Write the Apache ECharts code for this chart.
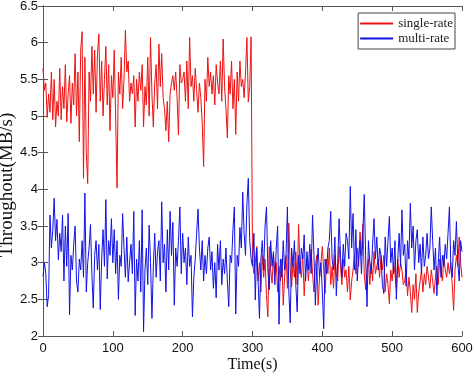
<!DOCTYPE html>
<html>
<head>
<meta charset="utf-8">
<script src="https://cdn.jsdelivr.net/npm/echarts@6/dist/echarts.min.js"></script>
<style>
html,body{margin:0;padding:0;background:#fff;}
#chart{width:474px;height:374px;}
</style>
</head>
<body>
<div id="chart"></div>
<script>
// sample spacing of both series (seconds)
const sampleStep = 2;
const seriesNames = ['single-rate', 'multi-rate'];
const xTicks = [0, 100, 200, 300, 400, 500, 600];
const yTicks = [2, 2.5, 3, 3.5, 4, 4.5, 5, 5.5, 6, 6.5];

// single-rate throughput (MB/s), t = 0,2,...,600
const singleRate = [
  5.65,5.35,5.45,4.98,5.3,5.05,5.6,4.95,5.5,4.85,
  5.2,5.0,5.65,4.95,5.4,5.1,5.7,4.92,5.3,5.55,
  4.9,5.45,5.15,5.85,5.0,5.6,4.65,5.9,6.15,4.15,
  5.8,4.5,4.08,5.6,5.2,5.95,5.3,5.9,5.05,5.85,
  6.12,5.2,5.75,5.0,5.5,5.95,5.15,5.7,4.8,5.55,
  5.25,5.9,5.0,4.02,5.6,5.3,5.8,5.1,5.5,6.17,
  5.6,5.75,5.2,5.45,5.3,5.55,4.85,5.5,5.2,5.6,
  5.35,5.7,4.85,5.4,5.15,5.8,5.0,6.07,5.3,4.85,
  5.45,5.7,5.1,5.98,5.4,5.85,5.25,5.1,4.8,5.2,
  4.65,5.3,5.45,5.55,5.35,5.6,5.25,4.74,5.7,5.45,
  5.5,5.6,5.2,5.75,5.1,6.07,5.4,5.55,5.2,5.65,
  5.35,5.05,5.45,5.25,4.9,4.31,5.5,5.2,5.8,5.4,
  5.6,5.3,5.55,5.15,5.7,5.45,5.3,5.75,5.2,6.05,
  5.4,5.1,4.7,5.55,5.3,5.75,5.1,5.5,4.75,5.6,
  5.2,5.75,5.4,5.5,5.25,5.6,6.07,5.19,5.4,6.08,
  3.05,2.85,3.0,3.22,2.75,3.0,2.6,3.1,2.8,3.05,
  2.55,2.26,3.22,2.9,2.72,3.1,2.85,3.0,2.6,2.95,
  2.75,3.05,2.42,2.8,3.1,2.65,3.54,2.9,2.67,3.0,
  2.8,3.15,2.7,3.52,2.95,2.8,3.1,2.55,2.9,3.05,
  2.75,3.0,3.18,2.85,2.6,2.95,3.1,2.42,2.8,3.0,
  3.22,2.9,2.58,3.05,2.85,3.2,2.7,2.95,2.65,3.1,
  2.85,2.75,3.22,2.95,2.7,3.05,2.8,2.9,2.6,2.95,
  2.49,2.75,2.9,3.1,2.85,3.2,2.95,3.42,3.1,3.53,
  2.85,2.63,2.9,3.05,2.7,3.0,2.75,3.15,2.85,2.95,
  3.05,2.8,3.1,2.9,3.1,2.6,2.85,2.7,2.44,2.9,
  2.75,3.0,2.85,2.65,3.05,2.8,3.0,2.9,2.7,2.75,
  2.9,2.55,2.8,2.6,2.32,2.7,2.5,2.85,2.32,2.6,
  2.75,2.9,2.6,2.85,2.7,2.95,2.8,2.65,2.9,2.75,
  2.58,2.8,2.95,2.7,3.05,2.85,2.75,3.1,2.9,2.8,
  3.0,2.85,3.0,2.7,2.35,2.9,3.1,2.95,3.35,3.0,
  2.8
];

// multi-rate throughput (MB/s), t = 0,2,...,600
const multiRate = [
  2.81,3.0,2.85,2.4,2.55,3.65,3.2,3.45,3.88,3.3,
  3.59,3.04,3.4,3.15,3.65,2.75,3.5,2.95,3.67,2.29,
  3.1,2.9,3.25,3.5,2.75,2.6,3.05,2.9,3.3,2.8,
  3.95,2.6,3.0,3.2,3.52,2.85,2.38,3.1,3.3,2.9,
  3.25,2.36,3.05,3.45,2.95,3.86,2.78,3.3,3.1,3.6,
  3.0,3.45,2.85,3.3,2.5,3.1,2.95,3.67,3.2,2.8,
  3.35,2.74,3.0,3.25,2.85,3.7,2.28,3.05,2.75,3.3,
  2.6,3.72,2.06,2.9,3.2,2.7,3.51,3.0,2.24,2.95,
  3.4,2.8,3.15,3.3,2.75,3.83,3.0,3.25,2.6,3.45,
  2.9,3.7,3.1,3.55,2.42,3.2,2.95,3.3,3.76,2.85,
  3.4,3.0,3.2,2.7,3.35,2.95,3.1,2.26,2.8,3.05,
  3.4,3.73,3.2,2.9,3.3,2.75,3.1,2.85,3.2,3.35,
  2.9,3.15,2.65,3.0,2.52,3.25,2.9,3.3,2.7,3.05,
  2.85,3.2,2.75,2.4,3.1,3.0,3.45,3.76,2.3,3.1,
  2.95,3.48,3.2,3.96,3.4,3.1,3.8,4.15,3.3,3.05,
  2.95,3.4,2.49,3.2,2.75,2.24,3.05,3.3,2.9,3.5,
  3.76,2.9,2.63,3.3,2.95,3.15,2.7,3.2,3.5,2.16,
  3.05,2.8,3.3,2.9,3.1,3.76,2.6,2.18,3.2,2.95,
  3.3,2.7,2.33,3.1,2.85,3.2,3.05,3.38,2.75,3.15,
  2.9,3.25,2.85,3.65,3.1,2.42,2.95,3.2,2.8,3.0,
  2.6,2.1,3.05,2.85,3.2,3.3,3.7,3.05,2.9,3.35,
  2.55,3.0,3.6,3.1,2.8,3.25,2.95,3.4,3.3,3.05,
  4.04,3.2,3.67,2.9,3.45,2.75,3.1,3.3,2.85,3.4,
  3.93,3.1,2.4,3.3,3.0,2.85,3.25,3.6,3.05,3.35,
  2.9,3.2,3.1,2.7,2.58,3.35,2.95,3.3,3.63,3.0,
  3.2,2.85,3.3,2.5,3.05,3.4,2.95,3.72,3.1,3.25,
  2.68,3.3,3.05,3.81,3.2,3.5,2.9,3.3,3.45,3.0,
  3.25,2.85,3.35,2.95,3.1,3.4,3.05,3.2,3.76,3.3,
  2.9,3.2,2.55,3.0,3.35,2.8,3.1,2.95,3.25,3.05,
  3.4,3.76,2.95,2.8,3.3,3.1,3.56,3.0,2.75,3.3,
  3.15
];

const toPairs = vals => vals.map((v, i) => [i * sampleStep, v]);

const axisColor = '#555';
const tickFont = { fontFamily: 'Liberation Sans, Arial, sans-serif', fontSize: 13, color: '#111' };
const serif = 'Liberation Serif, Times New Roman, serif';

const chart = echarts.init(document.getElementById('chart'), null, { renderer: 'canvas' });

const baseX = {
  type: 'value', min: xTicks[0], max: xTicks[xTicks.length - 1],
  interval: xTicks[1] - xTicks[0],
  axisLine: { show: true, lineStyle: { color: axisColor, width: 1 } },
  axisTick: { show: true, inside: true, length: 5, lineStyle: { color: axisColor } },
  splitLine: { show: false }
};
const baseY = {
  type: 'value', min: yTicks[0], max: yTicks[yTicks.length - 1],
  interval: yTicks[1] - yTicks[0],
  axisLine: { show: true, lineStyle: { color: axisColor, width: 1 } },
  axisTick: { show: true, inside: true, length: 5, lineStyle: { color: axisColor } },
  splitLine: { show: false }
};

chart.setOption({
  animation: false,
  backgroundColor: '#fff',
  grid: { left: 43, right: 12, top: 6, bottom: 38, containLabel: false, outerBoundsMode: 'none' },
  legend: {
    data: seriesNames,
    orient: 'vertical',
    right: 19, top: 13,
    icon: 'rect',
    itemWidth: 33, itemHeight: 2,
    itemGap: 2,
    padding: [4, 2, 4, 2],
    backgroundColor: '#fff',
    borderColor: '#444', borderWidth: 1,
    textStyle: { fontFamily: serif, fontSize: 13, color: '#222' }
  },
  xAxis: [
    Object.assign({}, baseX, {
      position: 'bottom',
      axisLabel: Object.assign({ margin: 6, formatter: v => String(v) }, tickFont),
      name: 'Time(s)', nameLocation: 'middle', nameGap: 21, nameMoveOverlap: false,
      nameTextStyle: { fontFamily: serif, fontSize: 16, color: '#111' }
    }),
    Object.assign({}, baseX, { position: 'top', axisLabel: { show: false } })
  ],
  yAxis: [
    Object.assign({}, baseY, {
      position: 'left',
      axisLabel: Object.assign({ margin: 5, formatter: v => String(v) }, tickFont),
      name: 'Throughout(MB/s)', nameLocation: 'middle', nameGap: 26, nameMoveOverlap: false,
      nameTextStyle: { fontFamily: serif, fontSize: 19, color: '#111', padding: [0, 28, 0, 0] }
    }),
    Object.assign({}, baseY, { position: 'right', axisLabel: { show: false } })
  ],
  series: [
    {
      name: seriesNames[0], type: 'line', symbol: 'none',
      xAxisIndex: 0, yAxisIndex: 0,
      lineStyle: { color: '#ee1111', width: 1 }, itemStyle: { color: '#ee1111' },
      data: toPairs(singleRate)
    },
    {
      name: seriesNames[1], type: 'line', symbol: 'none',
      xAxisIndex: 0, yAxisIndex: 0,
      lineStyle: { color: '#1111e6', width: 1 }, itemStyle: { color: '#1111e6' },
      data: toPairs(multiRate)
    }
  ]
});
</script>
</body>
</html>
